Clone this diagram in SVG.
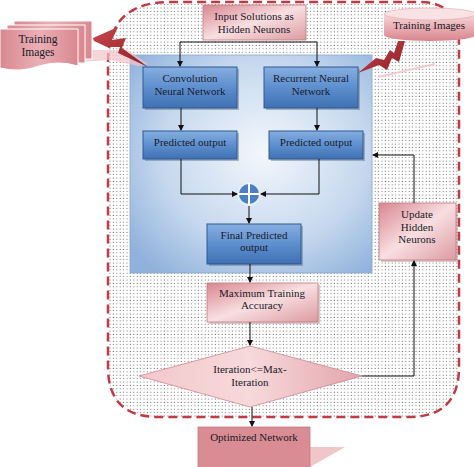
<svg xmlns="http://www.w3.org/2000/svg" width="474" height="467" viewBox="0 0 474 467">
<style>
text{font-family:"Liberation Serif","Times New Roman",serif;font-size:11px;fill:#1a1a2a;text-anchor:middle}
.blue{fill:url(#gBlue);stroke:#2f5a8f;stroke-width:1}
.pink{fill:url(#gPink);stroke:#c27a82;stroke-width:0.8}
.sh{fill:#5a6e88;opacity:0.45}
.shp{fill:#9a6a70;opacity:0.35}
.con{fill:none;stroke:#111;stroke-width:1}
</style>
<defs>
<pattern id="dots" width="3.4" height="3.4" patternUnits="userSpaceOnUse">
<rect width="3.4" height="3.4" fill="#ffffff"/>
<circle cx="1.2" cy="1.2" r="0.6" fill="#707070"/>
</pattern>
<linearGradient id="gBlue" x1="0" y1="0" x2="0" y2="1">
<stop offset="0" stop-color="#86aee0"/>
<stop offset="0.5" stop-color="#5d8fce"/>
<stop offset="1" stop-color="#3f70b4"/>
</linearGradient>
<radialGradient id="gPanel" cx="0.55" cy="0.45" r="0.7">
<stop offset="0" stop-color="#f3f7fc"/>
<stop offset="0.6" stop-color="#c6d8ee"/>
<stop offset="1" stop-color="#8fb1dc"/>
</radialGradient>
<linearGradient id="gPink" x1="0" y1="0" x2="1" y2="1">
<stop offset="0" stop-color="#d9868f"/>
<stop offset="0.5" stop-color="#f8dfe1"/>
<stop offset="1" stop-color="#dc9aa0"/>
</linearGradient>
<linearGradient id="gDia" x1="0" y1="0" x2="1" y2="0">
<stop offset="0" stop-color="#f3c8cb"/>
<stop offset="0.5" stop-color="#f7d9db"/>
<stop offset="1" stop-color="#e3a5ab"/>
</linearGradient>
<linearGradient id="gPage" x1="0" y1="0" x2="1" y2="0">
<stop offset="0" stop-color="#d88890"/>
<stop offset="0.5" stop-color="#eab0b5"/>
<stop offset="1" stop-color="#d9878f"/>
</linearGradient>
<linearGradient id="gCyl" x1="0" y1="0" x2="0" y2="1">
<stop offset="0" stop-color="#f6d8da"/>
<stop offset="0.5" stop-color="#e9aeb3"/>
<stop offset="1" stop-color="#d7848c"/>
</linearGradient>
<linearGradient id="gBolt" x1="0" y1="0" x2="1" y2="1">
<stop offset="0" stop-color="#c9474f"/>
<stop offset="1" stop-color="#8c1e24"/>
</linearGradient>
<marker id="arr" markerWidth="6" markerHeight="6" refX="5" refY="3" orient="auto" markerUnits="userSpaceOnUse">
<path d="M0,0 L6,3 L0,6 Z" fill="#111"/>
</marker>
</defs>

<g id="region">
<path d="M108,62 Q108,2 170,2 L420,2 Q459,2 459,45 L459,367 Q459,417 409,417 L158,417 Q108,417 108,367 Z" fill="url(#dots)" stroke="#c23a44" stroke-width="2.5" stroke-dasharray="9,5"/>
</g>

<g id="panel">
<rect x="130" y="55" width="242" height="218" fill="url(#gPanel)" stroke="#8aaad4" stroke-width="0.8"/>
</g>

<g id="training-left">
<polygon points="80,50 128,50 148,64 138,66 110,60 80,62" fill="#f2c4c7" opacity="0.7"/>
<rect x="14" y="21" width="78" height="38" fill="url(#gPage)" stroke="#fff" stroke-width="1"/>
<rect x="7" y="25" width="78" height="38" fill="url(#gPage)" stroke="#fff" stroke-width="1"/>
<path d="M0,29 L78,29 L78,66 Q58,60 39,66 Q20,73 0,68 Z" fill="url(#gPage)" stroke="#fff" stroke-width="1"/>
<text x="38" y="43" style="font-size:11.5px">Training</text>
<text x="38" y="56" style="font-size:11.5px">Images</text>
</g>

<g id="bolt-left">
<polygon points="93,38 118,27 112,40 126,38 122,48 148,67 118,53 120,47 107,47 94,41" fill="url(#gBolt)"/>
</g>

<g id="training-right">
<path d="M384,14 L384,35 A46,6 0 0 0 476,35 L476,14 Z" fill="url(#gCyl)"/>
<ellipse cx="430" cy="14" rx="46" ry="6" fill="#f8e2e4" stroke="#e2a5aa" stroke-width="0.6"/>
<text x="429" y="29">Training Images</text>
</g>

<g id="bolt-right">
<line x1="378" y1="77" x2="435" y2="64" stroke="#f2c4c7" stroke-width="2" opacity="0.8"/>
<polygon points="398,41 405,41 399,62 392,58 387,70 379,65 358,73 376,58 384,60 390,50 394,53" fill="url(#gBolt)"/>
</g>

<g id="input">
<rect x="203" y="5" width="103" height="35" class="pink"/>
<text x="254" y="20">Input Solutions as</text>
<text x="254" y="33">Hidden Neurons</text>
</g>

<g id="cnn">
<rect x="145" y="69" width="94" height="41" class="sh"/>
<rect x="143" y="67" width="94" height="41" class="blue"/>
<text x="190" y="82">Convolution</text>
<text x="190" y="95">Neural Network</text>
</g>

<g id="rnn">
<rect x="266" y="69" width="94" height="41" class="sh"/>
<rect x="264" y="67" width="94" height="41" class="blue"/>
<text x="311" y="82">Recurrent Neural</text>
<text x="311" y="95">Network</text>
</g>

<g id="pred-left">
<rect x="145" y="133" width="94" height="28" class="sh"/>
<rect x="143" y="131" width="94" height="28" class="blue"/>
<text x="190" y="146">Predicted output</text>
</g>

<g id="pred-right">
<rect x="271" y="133" width="94" height="28" class="sh"/>
<rect x="269" y="131" width="94" height="28" class="blue"/>
<text x="316" y="146">Predicted output</text>
</g>

<g id="sum">
<circle cx="249" cy="194" r="11" fill="#4a7fc1" stroke="#e8eef7" stroke-width="2"/>
<line x1="238" y1="194" x2="260" y2="194" stroke="#fff" stroke-width="2"/>
<line x1="249" y1="183" x2="249" y2="205" stroke="#fff" stroke-width="2"/>
</g>

<g id="final">
<rect x="209" y="226" width="94" height="40" class="sh"/>
<rect x="207" y="224" width="94" height="40" class="blue"/>
<text x="254" y="239">Final Predicted</text>
<text x="254" y="251">output</text>
</g>

<g id="max-acc">
<rect x="209" y="285" width="111" height="39" class="shp"/>
<rect x="207" y="283" width="111" height="39" class="pink"/>
<text x="262" y="297">Maximum Training</text>
<text x="262" y="309">Accuracy</text>
</g>

<g id="decision">
<polygon points="250,346 362,376 250,407 139,376" fill="url(#gDia)" stroke="#c98a90" stroke-width="0.8"/>
<text x="250" y="373">Iteration&lt;=Max-</text>
<text x="250" y="386">Iteration</text>
</g>

<g id="update">
<rect x="381" y="205" width="77" height="57" class="shp"/>
<rect x="379" y="203" width="77" height="57" class="pink"/>
<text x="417" y="218">Update</text>
<text x="417" y="231">Hidden</text>
<text x="417" y="243">Neurons</text>
</g>

<g id="optimized">
<polygon points="310,447 345,447 310,467" fill="#f0c6c9"/>
<rect x="198" y="427" width="112" height="42" fill="#d98c93" stroke="#c57880" stroke-width="0.8"/>
<text x="254" y="441">Optimized Network</text>
</g>

<g id="connectors">
<path class="con" d="M180,42 L317,42"/>
<path class="con" d="M180,42 L180,66" marker-end="url(#arr)"/>
<path class="con" d="M317,42 L317,66" marker-end="url(#arr)"/>
<path class="con" d="M181,108 L181,130" marker-end="url(#arr)"/>
<path class="con" d="M317,108 L317,130" marker-end="url(#arr)"/>
<path class="con" d="M181,159 L181,194 L237,194" marker-end="url(#arr)"/>
<path class="con" d="M319,159 L319,194 L261,194" marker-end="url(#arr)"/>
<path class="con" d="M249,206 L249,223" marker-end="url(#arr)"/>
<path class="con" d="M250,264 L250,282" marker-end="url(#arr)"/>
<path class="con" d="M250,322 L250,345" marker-end="url(#arr)"/>
<path class="con" d="M252,407 L252,426" marker-end="url(#arr)"/>
<path class="con" d="M362,376 L414,376 L414,261" marker-end="url(#arr)"/>
<path class="con" d="M414,203 L414,155 L373,155" marker-end="url(#arr)"/>
</g>
</svg>
